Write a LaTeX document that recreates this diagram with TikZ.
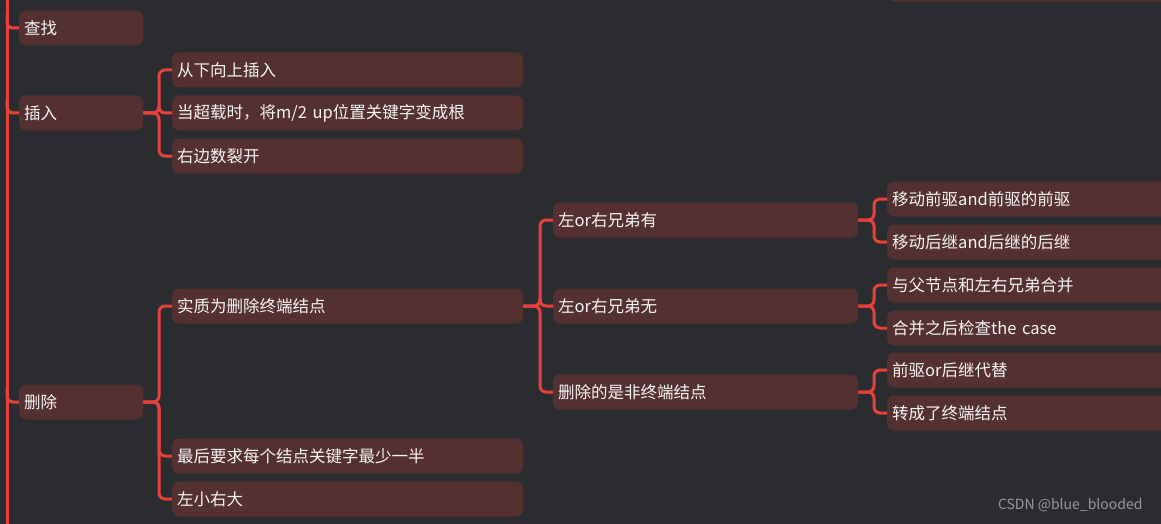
\documentclass[tikz,border=0pt]{standalone}
\usepackage{fontspec}
\setmainfont{Noto Sans CJK SC}
\definecolor{bgc}{HTML}{2B2C30}
\definecolor{nodec}{HTML}{553030}
\definecolor{linec}{HTML}{E8403A}
\definecolor{txtc}{HTML}{F6F6F6}
\begin{document}
\begin{tikzpicture}[x=1pt,y=-1pt,
  box/.style={fill=nodec,rounded corners=7pt,anchor=west,minimum height=35pt,inner xsep=5pt,inner ysep=0pt,text=txtc,font=\fontsize{16.5pt}{18pt}\selectfont,align=left},
  lone/.style={box,text width=114pt},
  ltwo/.style={box,text width=341pt},
  lthree/.style={box,text width=295pt},
  lfour/.style={box,text width=300pt},
  conn/.style={draw=linec,line width=3pt,rounded corners=6pt}]
\fill[bgc] (0,0) rectangle (1161,524);
\useasboundingbox (0,0) rectangle (1161,524);
\clip (0,0) rectangle (1161,524);
\draw[linec,line width=3pt] (7,0) -- (7,524);
\node[lone] (cz) at (19,28) {查找};
\node[lone] (cr) at (19,113) {插入};
\node[lone] (sc) at (19,402) {删除};
\foreach \n in {cz,cr,sc}{\draw[conn] ([xshift=-12pt,yshift=14pt]\n.west) |- (\n.west);}
\node[ltwo] (a1) at (172,70) {从下向上插入};
\node[ltwo] (a2) at (172,113) {当超载时，将m/2 up位置关键字变成根};
\node[ltwo] (a3) at (172,156) {右边数裂开};
\node[ltwo] (b1) at (172,306) {实质为删除终端结点};
\node[ltwo] (b2) at (172,456) {最后要求每个结点关键字最少一半};
\node[ltwo] (b3) at (172,499) {左小右大};
\node[lthree] (c1) at (553,220) {左or右兄弟有};
\node[lthree] (c2) at (553,306) {左or右兄弟无};
\node[lthree] (c3) at (553,392) {删除的是非终端结点};
\node[lfour] (d0) at (887,-16) {};
\node[lfour] (d1) at (887,199) {移动前驱and前驱的前驱};
\node[lfour] (d2) at (887,242) {移动后继and后继的后继};
\node[lfour] (d3) at (887,285) {与父节点和左右兄弟合并};
\node[lfour] (d4) at (887,328) {合并之后检查the case};
\node[lfour] (d5) at (887,370) {前驱or后继代替};
\node[lfour] (d6) at (887,413) {转成了终端结点};
\foreach \p/\c in {cr/a1,cr/a2,cr/a3,sc/b1,sc/b2,sc/b3,b1/c1,b1/c2,b1/c3,c1/d1,c1/d2,c2/d3,c2/d4,c3/d5,c3/d6}
  {\draw[conn] (\p.east) -| ([xshift=-13pt]\c.west) -- (\c.west);}
\node[text=gray!80,font=\fontsize{14pt}{16pt}\selectfont,anchor=east] (wm) at (1146,505) {CSDN @blue\_blooded};
\end{tikzpicture}
\end{document}
